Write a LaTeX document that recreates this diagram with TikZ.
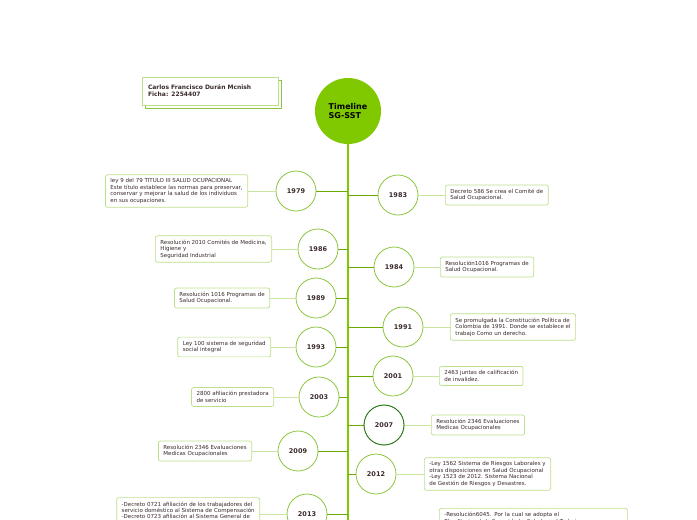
\documentclass[tikz,border=0pt]{standalone}
\usepackage{fontspec}
\setmainfont{DejaVu Sans}
\begin{document}
\begin{tikzpicture}[x=1pt,y=-1pt]
\definecolor{tl}{HTML}{80C800}
\definecolor{cir}{HTML}{8CC63F}
\definecolor{bx}{HTML}{BCDF8A}
\definecolor{lkc}{HTML}{C8E6A0}
\definecolor{txt}{HTML}{3A2A2A}
\tikzset{
  yr/.style={circle,draw=cir,line width=0.8pt,minimum size=40pt,inner sep=0,fill=white,font=\fontsize{6.5}{7}\selectfont\bfseries,text=txt},
  info/.style={draw=bx,rounded corners=2pt,line width=0.7pt,fill=white,align=left,inner xsep=5pt,inner ysep=4pt,font=\fontsize{5.5}{6.4}\selectfont,text=txt},
  ax/.style={draw=tl!85!black,line width=0.7pt},
  lk/.style={draw=lkc,line width=0.8pt}}
\useasboundingbox (0,0) rectangle (697,520);
\clip (0,0) rectangle (697,520);
\coordinate (top) at (348,140);
\coordinate (bot) at (348,525);
\draw[draw=tl,line width=1.3pt] (top) -- (bot);
\node[circle,fill=tl,minimum size=66pt,inner sep=0,font=\fontsize{8}{9.5}\selectfont\bfseries,align=left] (main) at (348,111) {Timeline\\SG-SST};
\node[draw=cir,fill=white,line width=0.6pt,minimum width=136pt,minimum height=28pt] (shadow) at (213,94) {};
\node[draw=bx,fill=white,line width=0.8pt,minimum width=136pt,minimum height=28pt,align=left,font=\fontsize{6}{7}\selectfont\bfseries,text=txt,text width=124pt] (name) at (210,91) {Carlos Francisco Durán Mcnish\\Ficha: 2254407};
\newcommand{\litem}[6]{%
  \coordinate (a#1) at (348,#4);
  \node[yr] (c#1) at (#3,#4) {#2};
  \node[info,anchor=east] (b#1) at (#5,#4) {#6};
  \draw[ax] (a#1) -- (c#1);
  \draw[lk] (c#1) -- (b#1);}
\newcommand{\ritemx}[6]{%
  \coordinate (a#1) at (348,#4);
  \node[yr] (c#1) at (#3,#4) {#2};
  \node[info,anchor=west] (b#1) at (#5,#4) {#6};
  \draw[ax] (a#1) -- (c#1);
  \draw[lk] (c#1) -- (b#1);}
\litem{1979}{1979}{296}{191}{248}{ley 9 del 79 TITULO III SALUD OCUPACIONAL\\Este título establece las normas  para preservar,\\conservar y mejorar la salud de los individuos\\en sus ocupaciones.}
\litem{1986}{1986}{318}{249}{272}{Resolución 2010 Comités de Medicina,\\Higiene y\\Seguridad Industrial}
\litem{1989}{1989}{316}{298}{270}{Resolución 1016 Programas de\\Salud Ocupacional.}
\litem{1993}{1993}{316}{347}{271}{Ley 100 sistema de seguridad\\social integral}
\litem{2003}{2003}{319}{397}{274}{2800 afiliación prestadora\\de servicio}
\litem{2009}{2009}{298}{451}{252}{Resolución 2346 Evaluaciones\\Medicas Ocupacionales}
\litem{2013}{2013}{307}{514}{260}{-Decreto 0721 afiliación de los trabajadores del\\servicio doméstico al Sistema de Compensación\\-Decreto 0723 afiliación al Sistema General de\\Riesgos Laborales}
\ritemx{1983}{1983}{398}{195}{445}{Decreto 586 Se crea el Comité de\\Salud Ocupacional.}
\ritemx{1984}{1984}{394}{267}{440}{Resolución1016 Programas de\\Salud Ocupacional.}
\ritemx{1991}{1991}{403}{327}{450}{Se promulgada la Constitución Política de\\Colombia de 1991. Donde se establece el\\trabajo Como un derecho.}
\ritemx{2001}{2001}{393}{376}{439}{2463 juntas de calificación\\de invalidez.}
\ritemx{2007}{2007}{384}{425}{431}{Resolución 2346 Evaluaciones\\Medicas Ocupacionales}
\draw[draw=green!35!black!85,line width=0.8pt] (c2007) circle (20pt);
\ritemx{2012}{2012}{376}{474}{424}{-Ley 1562 Sistema de Riesgos Laborales y\\otras disposiciones en Salud Ocupacional\\-Ley   1523  de 2012.   Sistema Nacional\\de Gestión   de Riesgos y Desastres.}
\node[info,anchor=north west,text width=178pt] (b2014) at (439,508) {-Resolución6045. Por la cual se  adopta el\\Plan Nacional de Seguridad y Salud en el Trabajo};
\end{tikzpicture}
\end{document}
